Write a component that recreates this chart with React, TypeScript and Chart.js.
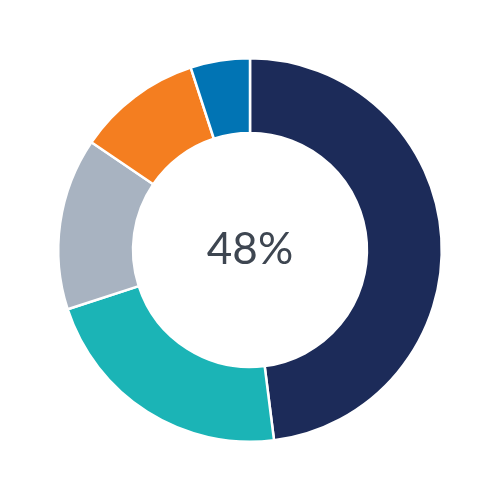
import React, { useEffect, useRef } from 'react';
import { Chart, registerables } from 'chart.js';

Chart.register(...registerables);

const labels = ['A', 'B', 'C', 'D', 'E'];
const values = [48, 22, 14.5, 10.5, 5];
const colors = ['#1c2b59', '#1bb4b6', '#a8b3c1', '#f47e20', '#0174b4'];
const centerLabel = '48%';

const centerText = {
  id: 'centerText',
  afterDraw(chart: any) {
    const { ctx, chartArea } = chart;
    const x = (chartArea.left + chartArea.right) / 2;
    const y = (chartArea.top + chartArea.bottom) / 2;
    ctx.save();
    ctx.font = '400 44px Lato, "Open Sans", sans-serif';
    ctx.fillStyle = '#3e4651';
    ctx.textAlign = 'center';
    ctx.textBaseline = 'middle';
    ctx.fillText(centerLabel, x, y);
    ctx.restore();
  },
};

export default function App() {
  const canvasRef = useRef<HTMLCanvasElement | null>(null);

  useEffect(() => {
    const ctx = canvasRef.current;
    if (!ctx) return;

    const chart = new Chart(ctx, {
      type: 'doughnut',
      data: {
        labels,
        datasets: [
          {
            data: values,
            backgroundColor: colors,
            borderColor: '#ffffff',
            borderWidth: 2.5,
          },
        ],
      },
      options: {
        responsive: true,
        maintainAspectRatio: false,
        animation: false,
        cutout: '61%',
        layout: { padding: 57 },
        plugins: {
          legend: { display: false },
          tooltip: { enabled: false },
        },
      },
      plugins: [centerText],
    });

    return () => {
      chart.destroy();
    };
  }, []);

  return (
    <div style={{ position: 'fixed', left: 0, top: 0, width: 500, height: 500, background: '#fff' }}>
      <canvas ref={canvasRef} />
    </div>
  );
}
